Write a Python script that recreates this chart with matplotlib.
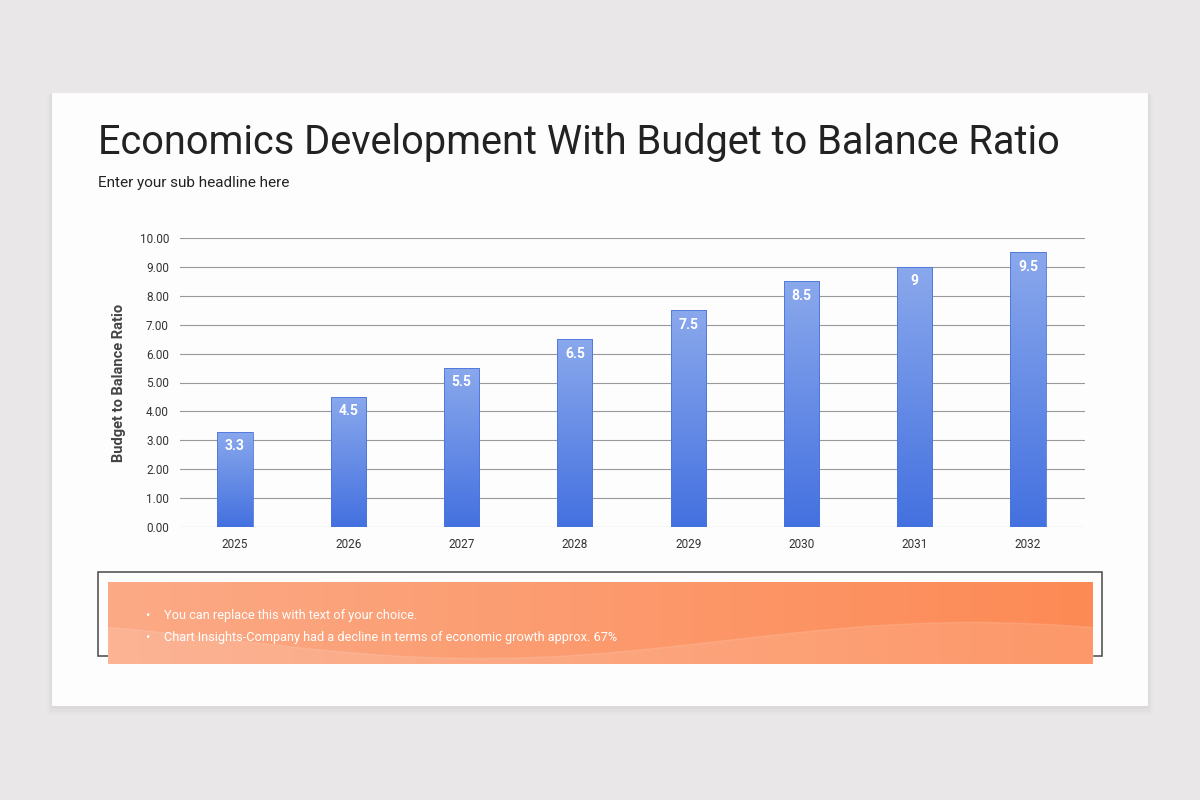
import numpy as np
import matplotlib
matplotlib.use("Agg")
import matplotlib.pyplot as plt
from matplotlib.patches import Rectangle
from matplotlib.colors import LinearSegmentedColormap

plt.rcParams['font.family'] = ['Roboto', 'DejaVu Sans']

years = ['2025', '2026', '2027', '2028', '2029', '2030', '2031', '2032']
values = [3.3, 4.5, 5.5, 6.5, 7.5, 8.5, 9, 9.5]
labels = ['3.3', '4.5', '5.5', '6.5', '7.5', '8.5', '9', '9.5']
yticks = [0, 1, 2, 3, 4, 5, 6, 7, 8, 9, 10]
bullets = ['You can replace this with text of your choice.',
           'Chart Insights-Company had a decline in terms of economic growth approx. 67%']

W, H = 1200, 800
fig = plt.figure(figsize=(12, 8), dpi=100)
fig.patch.set_facecolor('#e9e7e8')

def fx(x): return x / W
def fy(y): return 1 - y / H

bg = fig.add_axes([0, 0, 1, 1]); bg.set_xlim(0, W); bg.set_ylim(H, 0); bg.axis('off')
for i, a in enumerate([0.025, 0.018, 0.012]):
    bg.add_patch(Rectangle((52 - 1 - i * 2, 93 + i), 1096 + 2 + i * 4, 613 + 3 + i * 2,
                           facecolor='black', alpha=a, edgecolor='none'))
bg.add_patch(Rectangle((52, 93), 1096, 613, facecolor='#fdfdfd', edgecolor='none'))
bg.text(98, 142, 'Economics Development With Budget to Balance Ratio', fontsize=28.6,
        color='#222222', va='center', ha='left')
bg.text(98, 183, 'Enter your sub headline here', fontsize=11, color='#222222', va='center')

bg.add_patch(Rectangle((98, 572), 1004, 84, facecolor='none', edgecolor='#555555', lw=1.2))
cmap_o = LinearSegmentedColormap.from_list('o', ['#fbaa86', '#fd8a55'])
grad = np.linspace(0, 1, 256).reshape(1, -1)
bg.imshow(grad, extent=(108, 1093, 664, 582), cmap=cmap_o, aspect='auto', zorder=3)
xs = np.linspace(108, 1093, 200)
wave = 640 + 18 * np.sin((xs - 108) / 985 * 2 * np.pi - 0.8)
bg.fill_between(xs, wave, 664, color='white', alpha=0.12, zorder=4)
bg.set_xlim(0, W); bg.set_ylim(H, 0)
for i, t in enumerate(bullets):
    y = 615 + i * 22
    bg.text(145, y, '•', color='white', fontsize=9, va='center', zorder=5)
    bg.text(164, y, t, color='white', fontsize=9.2, va='center', zorder=5)

ax = fig.add_axes([fx(180), fy(527), fx(1085 - 180), (527 - 238) / H])
ax.set_facecolor('none')
x = np.arange(len(years))
bw = 0.31
cmap_b = LinearSegmentedColormap.from_list('b', ['#4471e0', '#8aa8ec'])
for xi, v, lab in zip(x, values, labels):
    r = Rectangle((xi - bw / 2, 0), bw, v, facecolor='none', edgecolor='#4a74dc', lw=0.6, zorder=3)
    ax.add_patch(r)
    g = ax.imshow(np.linspace(0, 1, 256).reshape(-1, 1), extent=(xi - bw / 2, xi + bw / 2, 0, v),
                  origin='lower', cmap=cmap_b, aspect='auto', zorder=2)
    g.set_clip_path(r)
    ax.text(xi, v - 0.5, lab, ha='center', va='center', color='white', fontsize=10,
            fontweight='bold', zorder=4)
ax.set_xlim(-0.485, len(years) - 0.497)
ax.set_ylim(0, 10)
ax.set_yticks(yticks)
ax.set_yticklabels([f'{t:.2f}' for t in yticks], fontsize=8.5, color='#333333')
ax.set_xticks(x)
ax.set_xticklabels(years, fontsize=8.5, color='#333333')
ax.tick_params(length=0, pad=8)
ax.yaxis.grid(True, color='#999999', lw=0.8)
ax.set_axisbelow(True)
for s in ax.spines.values():
    s.set_visible(False)
ax.set_ylabel('Budget to Balance Ratio', fontsize=10.5, fontweight='bold', color='#444444', labelpad=10)

fig.savefig('out.png', dpi=100, facecolor=fig.get_facecolor())
